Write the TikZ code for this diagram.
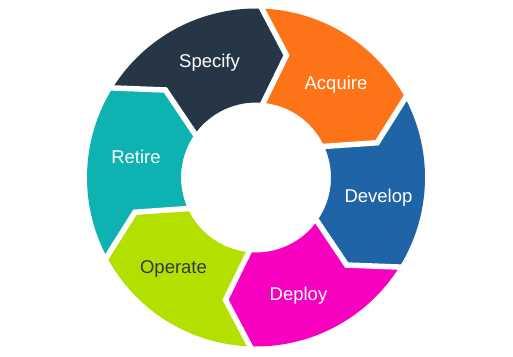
\documentclass[tikz,border=0pt]{standalone}
\usepackage{fontspec}
\setmainfont{Liberation Sans}
\usetikzlibrary{calc}
\definecolor{cSpec}{HTML}{263646}
\definecolor{cAcq}{HTML}{FD7418}
\definecolor{cDev}{HTML}{1F64A6}
\definecolor{cDep}{HTML}{F800C0}
\definecolor{cOpe}{HTML}{B4E000}
\definecolor{cRet}{HTML}{0EB3B1}
\definecolor{cOpeText}{HTML}{2B3B4B}
\begin{document}
\begin{tikzpicture}[x=1pt,y=1pt,
  lbl/.style={font=\fontsize{18.5}{18.5}\selectfont, text=white, inner sep=0pt,
              text height=13pt, text depth=0pt, anchor=center},
  gapline/.style={white, line width=5.5pt, line join=miter}]
\useasboundingbox (0,0) rectangle (513,356);
\fill[white] (0,0) rectangle (513,356);
\coordinate (C) at (256,178.5);
\def\Ro{169}
\def\Ri{75}
\def\Rt{126}
% segments: cw boundary angle a, ccw boundary a+60
\foreach \k/\col in {0/cSpec,1/cRet,2/cOpe,3/cDep,4/cDev,5/cAcq}{
  \pgfmathsetmacro\a{88+60*\k}
  \pgfmathsetmacro\b{\a+60}
  \pgfmathsetmacro\n{\a+48}
  \pgfmathsetmacro\bi{\a+56.5}
  \pgfmathsetmacro\ai{\a-3.5}
  \pgfmathsetmacro\t{\a-12}
  \fill[\col] ($(C)+(\a:\Ro)$) arc[start angle=\a, end angle=\b, radius=\Ro]
     -- ($(C)+(\n:\Rt)$) -- ($(C)+(\bi:\Ri)$)
     arc[start angle=\bi, end angle=\ai, radius=\Ri]
     -- ($(C)+(\t:\Rt)$) -- cycle;
}
% white gaps between segments
\foreach \k in {0,...,5}{
  \pgfmathsetmacro\a{88+60*\k}
  \pgfmathsetmacro\ai{\a-3.5}
  \pgfmathsetmacro\t{\a-12}
  \coordinate (O) at ($(C)+(\a:\Ro)$);
  \coordinate (T) at ($(C)+(\t:\Rt)$);
  \coordinate (I) at ($(C)+(\ai:\Ri)$);
  \draw[gapline] ($(T)!1.3!(O)$) -- (T) -- ($(T)!1.3!(I)$);
}
\node[lbl] (specify) at (209.5,295) {Specify};
\node[lbl] (acquire) at (336,273) {Acquire};
\node[lbl] (develop) at (378.5,160) {Develop};
\node[lbl] (deploy) at (298.5,62.5) {Deploy};
\node[lbl, text=cOpeText] (operate) at (173.5,89) {Operate};
\node[lbl] (retire) at (136,199) {Retire};
\end{tikzpicture}
\end{document}
